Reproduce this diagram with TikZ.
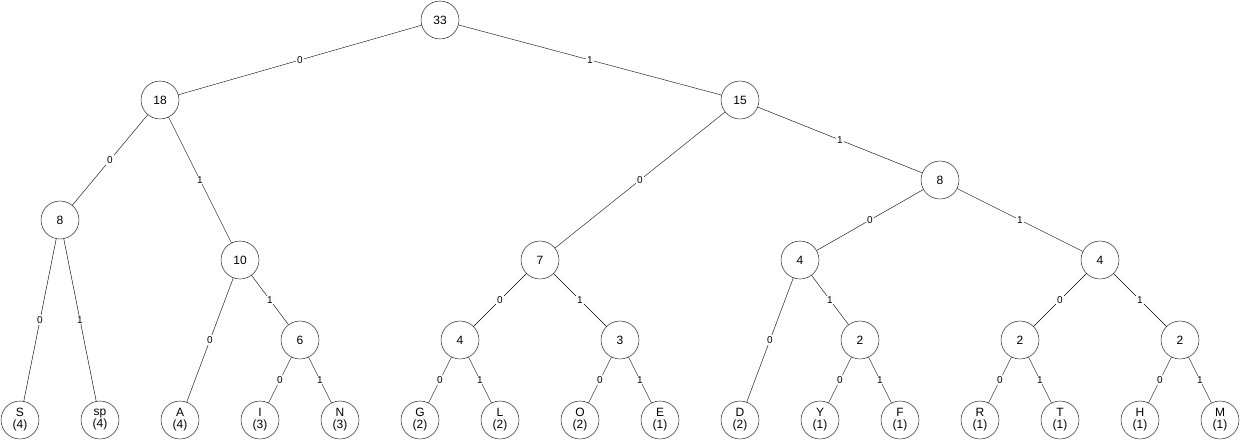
\documentclass[tikz,border=0pt]{standalone}
\usepackage{fontspec}
\setmainfont{Liberation Sans}
\begin{document}
\begin{tikzpicture}[x=1pt,y=-1pt,
  nd/.style={circle,draw,minimum size=38pt,inner sep=0pt,font=\fontsize{12}{13}\selectfont,align=center},
  lb/.style={fill=white,inner sep=1pt,font=\fontsize{10}{11}\selectfont,midway}]
\useasboundingbox (0,0) rectangle (1241,442);
\node[nd] (r) at (440,20) {33};
\node[nd] (a) at (160,100) {18};
\node[nd] (b) at (740,100) {15};
\node[nd] (a0) at (60,220) {8};
\node[nd] (a1) at (240,260) {10};
\node[nd] (b1) at (940,180) {8};
\node[nd] (b0) at (540,260) {7};
\node[nd] (b10) at (800,260) {4};
\node[nd] (b11) at (1100,260) {4};
\node[nd] (a11) at (300,340) {6};
\node[nd] (b00) at (460,340) {4};
\node[nd] (b01) at (620,340) {3};
\node[nd] (b101) at (860,340) {2};
\node[nd] (b110) at (1020,340) {2};
\node[nd] (b111) at (1180,340) {2};
\foreach \n/\x/\t in {S/20/S,sp/100/sp,A/180/A,I/260/I,N/340/N,G/420/G,L/500/L,O/580/O,E/660/E,D/740/D,Y/820/Y,F/900/F,R/980/R,T/1060/T,H/1140/H,M/1220/M}
  \node[nd] (\n) at (\x,420) {};
\foreach \n/\t/\c in {S/S/4,sp/sp/4,A/A/4,I/I/3,N/N/3,G/G/2,L/L/2,O/O/2,E/E/1,D/D/2,Y/Y/1,F/F/1,R/R/1,T/T/1,H/H/1,M/M/1}
  \node[align=center,font=\fontsize{12}{12}\selectfont,inner sep=0pt] at (\n) {\t\\(\c)};
\foreach \p/\c/\l in {r/a/0,r/b/1,a/a0/0,a/a1/1,b/b0/0,b/b1/1,a0/S/0,a0/sp/1,a1/A/0,a1/a11/1,a11/I/0,a11/N/1,b0/b00/0,b0/b01/1,b00/G/0,b00/L/1,b01/O/0,b01/E/1,b1/b10/0,b1/b11/1,b10/D/0,b10/b101/1,b101/Y/0,b101/F/1,b11/b110/0,b11/b111/1,b110/R/0,b110/T/1,b111/H/0,b111/M/1}
  \draw (\p) -- (\c) node[lb] {\l};
\end{tikzpicture}
\end{document}
